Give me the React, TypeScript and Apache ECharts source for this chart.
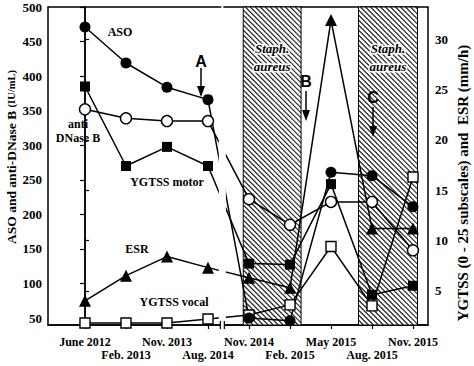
import React, { useEffect, useRef } from "react";
import * as echarts from "echarts";

const categories = [
  "June 2012", "Feb. 2013", "Nov. 2013", "Aug. 2014", "Nov. 2014",
  "Feb. 2015", "May 2015", "Aug. 2015", "Nov. 2015",
];
// left axis (IU/mL)
const asoValues = [471, 419, 384, 366, 50, 46, 261, 256, 211];
const dnaseValues = [352, 339, 335, 335, 222, 185, 218, 218, 148];
// right axis (YGTSS subscales, ESR mm/h)
const motorValues = [25.3, 17.4, 19.3, 17.4, 7.7, 7.6, 15.6, 4.6, 5.5];
const vocalValues = [1.8, 1.8, 1.8, 2.2, 2.6, 3.6, 9.4, 3.5, 16.3];
const esrValues = [4.0, 6.5, 8.4, 7.3, 6.3, 5.3, 31.9, 11.2, 11.2];

const leftTicks = [50, 100, 150, 200, 250, 300, 350, 400, 450, 500];
const rightTicks = [5, 10, 15, 20, 25, 30];
const xTicks = [0, 1, 2, 3, 4, 5, 6, 7, 8];
const xLabelsRow1 = [0, 2, 4, 6, 8];
const xLabelsRow2 = [1, 3, 5, 7];
const staphPeriods = [
  [3.86, 5.27],
  [6.67, 8.11],
];
const breakAt = [3.35];

const SERIF = '"Liberation Serif", "Times New Roman", serif';
const SANS = '"Liberation Sans", Arial, sans-serif';

function hatchRender(params: any, api: any) {
  const x0 = api.value(0);
  const x1 = api.value(1);
  const cs = params.coordSys;
  const L = api.coord([x0, 10])[0];
  const R = api.coord([x1, 10])[0];
  const T = cs.y;
  const B = cs.y + cs.height;
  const k = 1.0;
  const step = 5;
  const children: any[] = [
    { type: "rect", shape: { x: L, y: T, width: R - L, height: B - T }, style: { fill: "#fff" } },
  ];
  const H = B - T;
  for (let xs = L - H / k; xs < R; xs += step) {
    let sx = xs, sy = T;
    if (sx < L) { sy = T + k * (L - xs); sx = L; }
    let ex = xs + H / k, ey = B;
    if (ex > R) { ey = T + k * (R - xs); ex = R; }
    if (ex > sx) {
      children.push({
        type: "line",
        shape: { x1: sx, y1: sy, x2: ex, y2: ey },
        style: { stroke: "#222", lineWidth: 1.1 },
      });
    }
  }
  children.push({
    type: "rect",
    shape: { x: L, y: T, width: R - L, height: B - T },
    style: { fill: "none", stroke: "#000", lineWidth: 1 },
  });
  children.push({
    type: "text",
    style: {
      text: "Staph.\naureus",
      x: (L + R) / 2,
      y: T + 50,
      align: "center",
      verticalAlign: "middle",
      textAlign: "center",
      textVerticalAlign: "middle",
      font: `italic bold 13px ${SERIF}`,
      lineHeight: 18,
      fill: "#000",
      stroke: "#fff",
      lineWidth: 3,
    },
  });
  return { type: "group", children };
}

function breakRender(params: any, api: any) {
  const cs = params.coordSys;
  const x = api.coord([api.value(0), 10])[0];
  const T = cs.y;
  const B = cs.y + cs.height;
  return {
    type: "group",
    children: [
      { type: "rect", shape: { x: x - 3.5, y: T + 1, width: 7, height: B - T - 3 }, style: { fill: "#fff" } },
      { type: "rect", shape: { x: x - 2, y: B - 2, width: 4, height: 4 }, style: { fill: "#fff" } },
      { type: "rect", shape: { x: x - 1, y: T - 1.5, width: 2, height: 3 }, style: { fill: "#fff" } },
      { type: "line", shape: { x1: x - 2, y1: B - 4, x2: x - 2, y2: B + 4 }, style: { stroke: "#000", lineWidth: 1.2 } },
      { type: "line", shape: { x1: x + 2, y1: B - 4, x2: x + 2, y2: B + 4 }, style: { stroke: "#000", lineWidth: 1.2 } },
    ],
  };
}

function lineSeries(name: string, values: number[], yAxisIndex: number, symbol: string, filled: boolean, size: number) {
  return {
    type: "line",
    name,
    yAxisIndex,
    data: values.map((v, i) => [i, v]),
    symbol,
    symbolSize: size,
    showSymbol: true,
    clip: false,
    z: 3,
    lineStyle: { color: "#000", width: 1.5 },
    itemStyle: { color: filled ? "#000" : "#fff", borderColor: "#000", borderWidth: filled ? 0 : 1.4, opacity: 1 },
    emphasis: { disabled: true },
  };
}

function textEl(text: string, x: number, y: number, font: string) {
  return {
    type: "text",
    x,
    y,
    z: 20,
    style: {
      text,
      x: 0,
      y: 0,
      font,
      fill: "#000",
      align: "center",
      verticalAlign: "middle",
      textAlign: "center",
      textVerticalAlign: "middle",
    },
  };
}

function arrowEls(letter: string, x: number, yLetter: number, yStart: number, yTip: number) {
  return [
    textEl(letter, x, yLetter, `bold 16px ${SANS}`),
    { type: "line", z: 20, shape: { x1: x, y1: yStart, x2: x, y2: yTip - 9 }, style: { stroke: "#000", lineWidth: 1.5 } },
    { type: "polygon", z: 20, shape: { points: [[x - 4, yTip - 11], [x + 4, yTip - 11], [x, yTip]] }, style: { fill: "#000" } },
  ];
}

export default function App() {
  const ref = useRef<HTMLDivElement>(null);
  useEffect(() => {
    if (!ref.current) return;
    const chart = echarts.init(ref.current, undefined, { renderer: "svg" });
    const axisLabelStyle = { color: "#000", fontFamily: SERIF, fontWeight: "bold" as const, fontSize: 13 };
    const xLabel = (vals: number[], margin: number) => ({
      customValues: vals,
      showMinLabel: true,
      showMaxLabel: true,
      color: "#000",
      fontFamily: SERIF,
      fontWeight: "bold",
      fontSize: 12,
      margin,
      formatter: (v: number) => categories[Math.round(v)],
    });
    chart.setOption({
      animation: false,
      backgroundColor: "#fff",
      grid: { left: 48, right: 46, top: 7, bottom: 41, show: true, borderColor: "#000", borderWidth: 1.5, backgroundColor: "transparent" },
      xAxis: [
        {
          type: "value",
          min: -0.902,
          max: 8.366,
          splitLine: { show: false },
          axisLine: { show: true, lineStyle: { color: "#000", width: 1.5 } },
          axisTick: { show: true, length: 4, customValues: xTicks, lineStyle: { color: "#000", width: 1.2 } },
          axisLabel: xLabel(xLabelsRow1, 11),
        },
        {
          type: "value",
          position: "bottom",
          min: -0.902,
          max: 8.366,
          splitLine: { show: false },
          axisLine: { show: false },
          axisTick: { show: false },
          axisLabel: xLabel(xLabelsRow2, 24),
        },
      ],
      yAxis: [
        {
          type: "value",
          position: "left",
          min: 40,
          max: 500,
          splitLine: { show: false },
          axisLine: { show: true, lineStyle: { color: "#000", width: 1.5 } },
          axisTick: { show: true, length: 5, customValues: leftTicks, lineStyle: { color: "#000", width: 1.2 } },
          axisLabel: { ...axisLabelStyle, margin: 6, customValues: leftTicks, showMinLabel: true, showMaxLabel: true },
        },
        {
          type: "value",
          position: "right",
          min: 1.6,
          max: 33.2,
          splitLine: { show: false },
          axisLine: { show: true, lineStyle: { color: "#000", width: 1.5 } },
          axisTick: { show: true, length: 4, customValues: rightTicks, lineStyle: { color: "#000", width: 1.2 } },
          axisLabel: { ...axisLabelStyle, margin: 7, customValues: rightTicks, showMinLabel: true, showMaxLabel: true },
        },
      ],
      series: [
        {
          type: "custom",
          name: "Staph. aureus",
          renderItem: hatchRender,
          data: staphPeriods,
          yAxisIndex: 1,
          clip: false,
          z: 1,
          silent: true,
        },
        lineSeries("ESR", esrValues, 1, "triangle", true, 12),
        lineSeries("YGTSS vocal", vocalValues, 1, "rect", false, 10),
        lineSeries("YGTSS motor", motorValues, 1, "rect", true, 10),
        lineSeries("anti DNase B", dnaseValues, 0, "circle", false, 11),
        lineSeries("ASO", asoValues, 0, "circle", true, 11),
        {
          type: "custom",
          name: "break",
          renderItem: breakRender,
          data: breakAt.map((b) => [b]),
          yAxisIndex: 1,
          clip: false,
          z: 6,
          silent: true,
        },
      ],
      graphic: [
        textEl("ASO", 120, 32, `bold 12px ${SERIF}`),
        textEl("anti", 78, 124, `bold 12px ${SERIF}`),
        textEl("DNase B", 78, 138, `bold 12px ${SERIF}`),
        textEl("YGTSS motor", 167, 182, `bold 12px ${SERIF}`),
        textEl("ESR", 137, 249, `bold 12px ${SERIF}`),
        textEl("YGTSS vocal", 174, 302, `bold 12px ${SERIF}`),
        ...arrowEls("A", 201, 61, 68, 97),
        ...arrowEls("B", 306, 81, 91, 121),
        ...arrowEls("C", 373, 97, 107, 137),
        {
          type: "text",
          x: 11,
          y: 157,
          z: 20,
          rotation: Math.PI / 2,
          style: {
            text: "{a|ASO and anti-DNase B} {b|(IU/mL)}",
            x: 0,
            y: 0,
            align: "center",
            verticalAlign: "middle",
            textAlign: "center",
            textVerticalAlign: "middle",
            fill: "#000",
            rich: {
              a: { font: `bold 13.5px ${SERIF}`, fill: "#000" },
              b: { font: `bold 10.5px ${SERIF}`, fill: "#000" },
            },
          },
        },
        {
          type: "text",
          x: 463,
          y: 183,
          z: 20,
          rotation: Math.PI / 2,
          style: {
            text: "YGTSS (0 - 25 subscales) and  ESR (mm/h)",
            x: 0,
            y: 0,
            align: "center",
            verticalAlign: "middle",
            textAlign: "center",
            textVerticalAlign: "middle",
            font: `bold 15px ${SERIF}`,
            fill: "#000",
          },
        },
      ],
    });
    return () => chart.dispose();
  }, []);
  return <div ref={ref} style={{ position: "fixed", left: 0, top: 0, width: 474, height: 366, background: "#fff" }} />;
}
